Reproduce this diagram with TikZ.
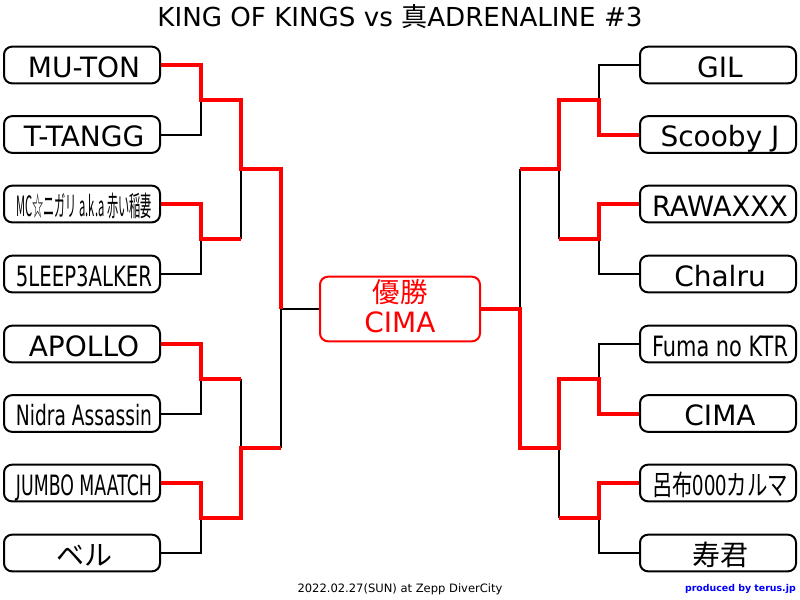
\documentclass[tikz,border=0pt]{standalone}
\usepackage{fontspec}
\usepackage{graphicx}
\setmainfont{DejaVu Sans}
\newfontfamily\cjk{Noto Sans CJK JP}
\newcommand{\fitlab}[1]{\sbox0{#1}\ifdim\wd0>102pt\resizebox{102pt}{\height}{\usebox0}\else\usebox0\fi}
\newcommand{\lb}[1]{\hspace*{3pt}\raisebox{-9pt}[0pt][0pt]{\fontsize{21}{24}\selectfont\fitlab{#1}}}
\tikzset{
  x=0.75pt,y=-0.75pt,
  player/.style={draw=black,line width=1.5pt,rounded corners=6pt,fill=white,minimum width=117pt,minimum height=27.5pt,inner sep=0pt,text=black},
  champ/.style={draw=red,line width=1.5pt,rounded corners=6pt,fill=white,minimum width=120pt,minimum height=48.5pt,inner sep=0pt,text=red,align=center},
  lose/.style={draw=black,line width=1.5pt},
  win/.style={draw=red,line width=3pt},
}
\begin{document}
\begin{tikzpicture}
\useasboundingbox (0,0) rectangle (800,600);
\node[text=black] (title) at (400,16.5) {\fontsize{19.6}{22}\selectfont KING OF KINGS vs {\cjk 真}ADRENALINE \#3};
\node[text=black] (date) at (400,589) {\fontsize{8.65}{10}\selectfont 2022.02.27(SUN) at Zepp DiverCity};
\node[text=blue,anchor=east,inner sep=0pt] (credit) at (796,589) {\fontsize{7.05}{10}\selectfont\bfseries produced by terus.jp};
% left players
\node[player] (l1) at (82,65) {\lb{MU-TON}};
\node[player] (l2) at (82,134.5) {\lb{T-TANGG}};
\node[player] (l3) at (82,204) {\lb{\cjk MC☆ニガリ a.k.a 赤い稲妻}};
\node[player] (l4) at (82,274) {\lb{5LEEP3ALKER}};
\node[player] (l5) at (82,344) {\lb{APOLLO}};
\node[player] (l6) at (82,413.5) {\lb{Nidra Assassin}};
\node[player] (l7) at (82,483) {\lb{JUMBO MAATCH}};
\node[player] (l8) at (82,553) {\lb{\cjk ベル}};
% right players
\node[player] (r1) at (718,65) {\lb{GIL}};
\node[player] (r2) at (718,134.5) {\lb{Scooby J}};
\node[player] (r3) at (718,204) {\lb{RAWAXXX}};
\node[player] (r4) at (718,274) {\lb{Chalru}};
\node[player] (r5) at (718,344) {\lb{Fuma no KTR}};
\node[player] (r6) at (718,413.5) {\lb{CIMA}};
\node[player] (r7) at (718,483) {\lb{\cjk 呂布000カルマ}};
\node[player] (r8) at (718,553) {\lb{\cjk 寿君}};
% champion
\node[champ] (c) at (400,309) {\raisebox{1.5pt}[\height][\depth]{\fontsize{20.6}{24}\selectfont\cjk 優勝}\\[5.5pt]\raisebox{2.75pt}[\height][\depth]{\fontsize{21}{24}\selectfont CIMA}};
% junctions
\coordinate (la) at (201,99.5);
\coordinate (lb) at (201,239);
\coordinate (lc) at (201,378.5);
\coordinate (ld) at (201,518);
\coordinate (le) at (241,169);
\coordinate (lf) at (241,448);
\coordinate (lg) at (280.5,309);
\coordinate (ra) at (598.5,99.5);
\coordinate (rb) at (598.5,239);
\coordinate (rc) at (598.5,378.5);
\coordinate (rd) at (598.5,518);
\coordinate (re) at (558.5,169);
\coordinate (rf) at (558.5,448);
\coordinate (rg) at (519.5,309);
% losers
\draw[lose] (l2.east) -| (la);
\draw[lose] (l4.east) -| (lb);
\draw[lose] (l6.east) -| (lc);
\draw[lose] (l8.east) -| (ld);
\draw[lose] (lb -| le) -- (le);
\draw[lose] (lc -| lf) -- (lf);
\draw[lose] (lf -| lg) -- (lg);
\draw[lose] (lg) -- (c.west);
\draw[lose] (r1.west) -| (ra);
\draw[lose] (r4.west) -| (rb);
\draw[lose] (r5.west) -| (rc);
\draw[lose] (r8.west) -| (rd);
\draw[lose] (rb -| re) -- (re);
\draw[lose] (rd -| rf) -- (rf);
\draw[lose] (re -| rg) -- (rg);
% winners
\draw[win] (l1.east) -| (la) -| (le) -| (lg);
\draw[win] (l3.east) -| (lb) -- (lb -| le);
\draw[win] (l5.east) -| (lc) -- (lc -| lf);
\draw[win] (l7.east) -| (ld) -| (lf) -- (lf -| lg);
\draw[win] (r2.west) -| (ra) -| (re) -- (re -| rg);
\draw[win] (r3.west) -| (rb) -- (rb -| re);
\draw[win] (r6.west) -| (rc) -| (rf) -| (rg) -- (c.east);
\draw[win] (r7.west) -| (rd) -- (rd -| rf);
\end{tikzpicture}
\end{document}
